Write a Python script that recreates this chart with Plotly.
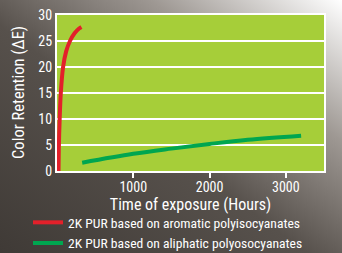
import base64
import plotly.graph_objects as go

# Data
aromatic_hours = [20, 25, 35, 50, 80, 120, 170, 230, 290, 320]
aromatic_de = [0, 5, 10, 15, 20, 23, 25, 26.5, 27.4, 27.7]
aliphatic_hours = [330, 1000, 1500, 2000, 2500, 3200]
aliphatic_de = [1.6, 3.3, 4.3, 5.2, 6.0, 6.8]
x_ticks = [1000, 2000, 3000]
y_ticks = [0, 5, 10, 15, 20, 25, 30]
names = ["2K PUR based on aromatic polyisocyanates",
         "2K PUR based on aliphatic polyosocyanates"]
y_title = "Color Retention (ΔE)"
x_title = "Time of exposure (Hours)"

W, H = 342, 253
ml, mr, mt, mb = 57, 18, 15, 82
pw, ph = W - ml - mr, H - mt - mb

svg = (
    '<svg xmlns="http://www.w3.org/2000/svg" width="342" height="253" preserveAspectRatio="none">'
    '<defs><linearGradient id="g" x1="0" y1="1" x2="1" y2="0">'
    '<stop offset="0" stop-color="#3f3a36"/>'
    '<stop offset="0.45" stop-color="#57514c"/>'
    '<stop offset="0.72" stop-color="#9e9893"/>'
    '<stop offset="1" stop-color="#ffffff"/>'
    '</linearGradient></defs>'
    '<rect width="342" height="253" fill="url(#g)"/></svg>'
)
src = "data:image/svg+xml;base64," + base64.b64encode(svg.encode()).decode()

font = "Liberation Sans Narrow, Arial Narrow, Roboto Condensed, Liberation Sans, sans-serif"

fig = go.Figure()
fig.add_trace(go.Scatter(x=aromatic_hours, y=aromatic_de, mode="lines",
                         line=dict(color="#e3202a", width=4, shape="spline"),
                         name=names[0]))
fig.add_trace(go.Scatter(x=aliphatic_hours, y=aliphatic_de, mode="lines",
                         line=dict(color="#00a650", width=4, shape="spline"),
                         name=names[1]))

fig.update_layout(
    width=W, height=H,
    margin=dict(l=ml, r=mr, t=mt, b=mb, autoexpand=False),
    paper_bgcolor="rgba(0,0,0,0)",
    plot_bgcolor="rgba(0,0,0,0)",
    font=dict(family=font, color="white", size=14),
    showlegend=True,
    legend=dict(x=28 / W, y=1 - 207 / H, xref="container", yref="container",
                xanchor="left", yanchor="top",
                bgcolor="rgba(0,0,0,0)", font=dict(size=13.6, color="white"),
                tracegroupgap=0, itemwidth=30),
    images=[dict(source=src, xref="paper", yref="paper",
                 x=-ml / pw, y=1 + mt / ph, sizex=W / pw, sizey=H / ph,
                 xanchor="left", yanchor="top", sizing="stretch", layer="below")],
    shapes=[dict(type="rect", xref="paper", yref="paper", x0=0, x1=1, y0=0, y1=1,
                 fillcolor="#a6ce39", line=dict(width=0), layer="below")],
    annotations=[dict(text=y_title, textangle=-90, xref="paper", yref="paper",
                      x=(18 - ml) / pw, y=0.5, xanchor="center", yanchor="middle",
                      showarrow=False, font=dict(size=16.5, color="white"))],
)
fig.update_xaxes(range=[0, 3500], tickvals=x_ticks, showgrid=False, zeroline=False,
                 ticks="outside", ticklen=5, tickwidth=2, tickcolor="white",
                 ticklabelstandoff=-3,
                 showline=True, linecolor="white", linewidth=2, mirror=True,
                 tickfont=dict(size=14, color="white"),
                 title=dict(text=x_title, font=dict(size=16, color="white"), standoff=0))
fig.update_yaxes(range=[0, 30], tickvals=y_ticks, showgrid=True, gridcolor="white", gridwidth=2,
                 zeroline=False, showline=True, linecolor="white", linewidth=2, mirror=True,
                 ticks="", tickfont=dict(size=14, color="white"))

fig.write_html("out.html")
